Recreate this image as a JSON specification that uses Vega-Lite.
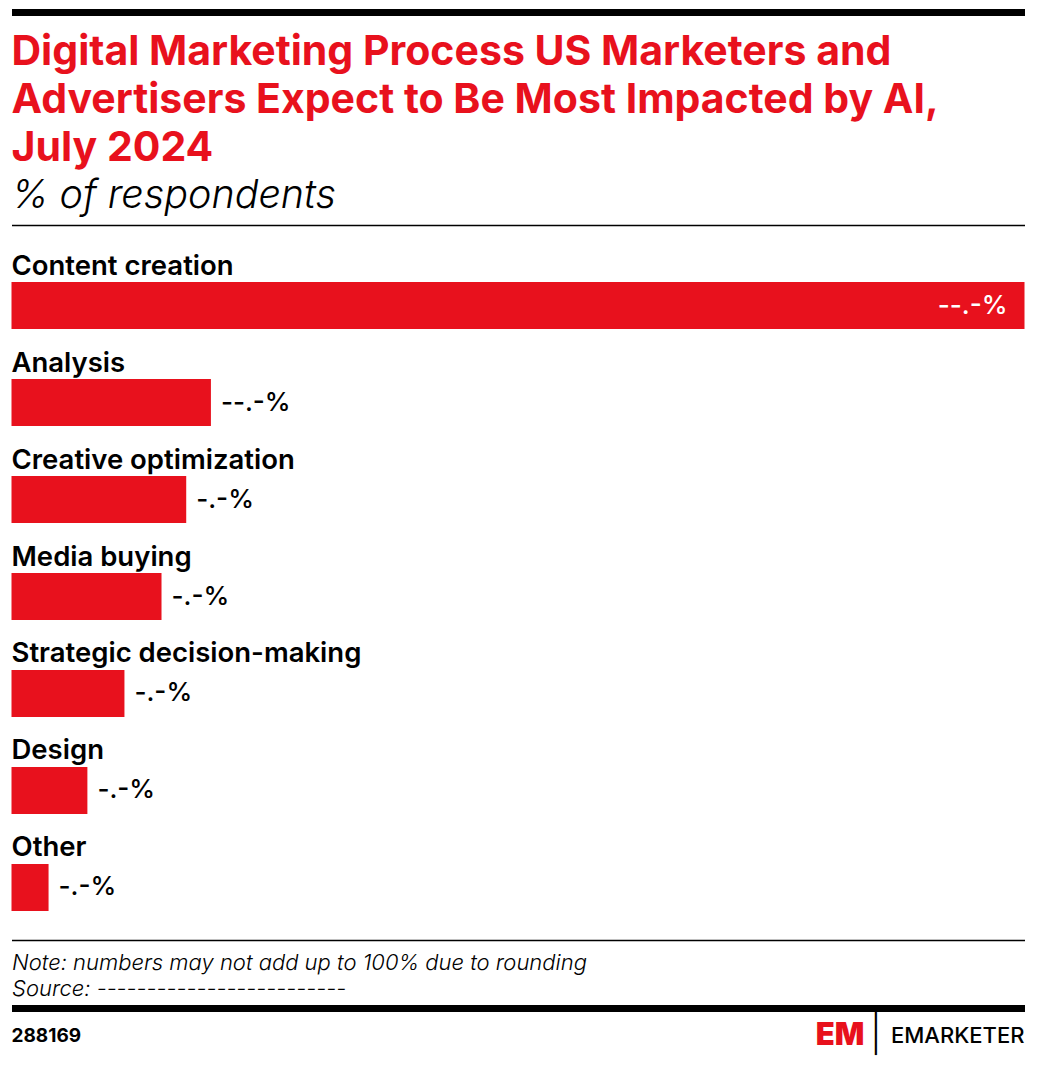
{
  "$schema": "https://vega.github.io/schema/vega-lite/v6.json",
  "padding": {"left": 8.5, "right": 9.5, "top": 12, "bottom": 0},
  "background": "white",
  "spacing": 8,
  "config": {"font": "Inter", "view": {"stroke": null}},
  "datasets": {
    "main": [
      {"category": "Content creation", "value": 57.4, "label": "--.-%"},
      {"category": "Analysis", "value": 11.3, "label": "--.-%"},
      {"category": "Creative optimization", "value": 9.9, "label": "-.-%"},
      {"category": "Media buying", "value": 8.5, "label": "-.-%"},
      {"category": "Strategic decision-making", "value": 6.4, "label": "-.-%"},
      {"category": "Design", "value": 4.3, "label": "-.-%"},
      {"category": "Other", "value": 2.1, "label": "-.-%"}
    ]
  },
  "vconcat": [
    {
      "width": 1013,
      "height": 11,
      "data": {"values": [{}]},
      "mark": {"type": "point", "opacity": 0},
      "encoding": {
        "x": {"datum": 0, "type": "quantitative", "scale": {"domain": [0, 1]},
          "axis": {"orient": "top", "domain": true, "domainColor": "#000000", "domainWidth": 7, "labels": false, "ticks": false, "grid": false, "title": null}}
      }
    },
    {
      "width": 1013,
      "height": 715,
      "data": {"name": "main"},
      "title": {
        "text": ["Digital Marketing Process US Marketers and", "Advertisers Expect to Be Most Impacted by AI,", "July 2024"],
        "subtitle": "% of respondents",
        "anchor": "start",
        "color": "#E8111D",
        "font": "Inter",
        "fontSize": 41,
        "fontWeight": 700,
        "lineHeight": 48,
        "subtitleColor": "#000000",
        "subtitleFont": "Inter",
        "subtitleFontSize": 39.5,
        "subtitleFontStyle": "italic",
        "subtitleFontWeight": 300,
        "subtitlePadding": 7,
        "offset": 9
      },
      "encoding": {
        "y": {"field": "category", "type": "nominal", "sort": null,
          "scale": {"paddingInner": 0, "paddingOuter": 0.186}, "axis": null}
      },
      "layer": [
        {
          "mark": {"type": "bar", "height": 47, "yOffset": 14, "color": "#E8111D"},
          "encoding": {
            "x": {"field": "value", "type": "quantitative", "scale": {"domain": [0, 57.4], "nice": false, "zero": true},
              "axis": {"orient": "top", "domain": true, "domainColor": "#000000", "domainWidth": 1.5, "labels": false, "ticks": false, "grid": false, "title": null}}
          }
        },
        {
          "mark": {"type": "text", "align": "left", "baseline": "alphabetic", "yOffset": -17, "fontSize": 27.5, "fontWeight": 600, "color": "#000000"},
          "encoding": {
            "x": {"datum": 0, "type": "quantitative",
              "axis": {"orient": "bottom", "domain": true, "domainColor": "#000000", "domainWidth": 1.5, "labels": false, "ticks": false, "grid": false,
                "title": ["Note: numbers may not add up to 100% due to rounding", "Source: -------------------------"],
                "titleAnchor": "start", "titleAlign": "left", "titleFont": "Inter", "titleFontSize": 22, "titleFontStyle": "italic", "titleFontWeight": 300,
                "titleColor": "#000000", "titleLineHeight": 26.8, "titlePadding": 12}},
            "text": {"field": "category"}
          }
        },
        {
          "transform": [{"filter": "datum.value > 50"}],
          "mark": {"type": "text", "align": "right", "baseline": "middle", "dx": -17, "yOffset": 14, "fontSize": 26, "fontWeight": 500, "color": "#ffffff"},
          "encoding": {
            "x": {"field": "value", "type": "quantitative", "axis": null},
            "text": {"field": "label"}
          }
        },
        {
          "transform": [{"filter": "datum.value <= 50"}],
          "mark": {"type": "text", "align": "left", "baseline": "middle", "dx": 10, "yOffset": 14, "fontSize": 26, "fontWeight": 500, "color": "#000000"},
          "encoding": {
            "x": {"field": "value", "type": "quantitative", "axis": null},
            "text": {"field": "label"}
          }
        }
      ],
      "resolve": {"axis": {"x": "independent"}}
    },
    {
      "width": 1013,
      "height": 56,
      "data": {"values": [{}]},
      "layer": [
        {
          "mark": {"type": "text", "align": "left", "baseline": "middle", "fontSize": 19, "fontWeight": 700, "color": "#000000"},
          "encoding": {
            "x": {"datum": 0, "type": "quantitative", "scale": {"domain": [0, 1]},
              "axis": {"orient": "top", "domain": true, "domainColor": "#000000", "domainWidth": 7, "labels": false, "ticks": false, "grid": false, "title": null}},
            "text": {"value": "288169"}
          }
        },
        {
          "mark": {"type": "text", "align": "right", "baseline": "middle", "fontSize": 22, "fontWeight": 500, "letterSpacing": 4.6, "color": "#000000"},
          "encoding": {
            "x": {"datum": 1, "type": "quantitative"},
            "text": {"value": "EMARKETER"}
          }
        },
        {
          "mark": {"type": "text", "align": "right", "baseline": "middle", "dx": -143, "fontSize": 36, "fontWeight": 300, "color": "#000000"},
          "encoding": {
            "x": {"datum": 1, "type": "quantitative"},
            "text": {"value": "|"}
          }
        },
        {
          "mark": {"type": "text", "align": "right", "baseline": "middle", "dx": -160, "fontSize": 31, "fontWeight": 900, "color": "#E8111D"},
          "encoding": {
            "x": {"datum": 1, "type": "quantitative"},
            "text": {"value": "EM"}
          }
        }
      ]
    }
  ]
}
